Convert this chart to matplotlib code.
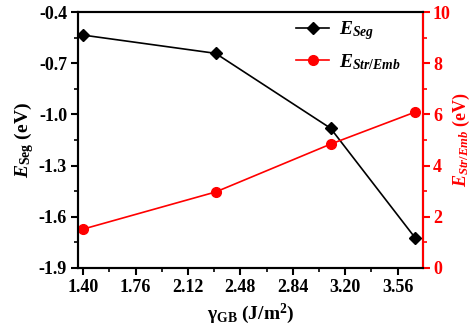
import matplotlib
matplotlib.use("Agg")
import matplotlib.pyplot as plt
from matplotlib.ticker import MultipleLocator, AutoMinorLocator

plt.rcParams["font.family"] = "Liberation Serif"
plt.rcParams["font.weight"] = "bold"
plt.rcParams["mathtext.fontset"] = "custom"
plt.rcParams["mathtext.rm"] = "Liberation Serif:bold"
plt.rcParams["mathtext.bf"] = "Liberation Serif:bold"
plt.rcParams["mathtext.it"] = "Liberation Serif:italic:bold"

# gamma_GB (J/m^2)
gamma_gb = [1.40, 2.31, 3.10, 3.68]
# segregation energy (eV), left axis
e_seg = [-0.535, -0.642, -1.081, -1.722]
# strain/embedding energy (eV), right axis
e_str_emb = [1.52, 2.97, 4.84, 6.09]

RED = "#ff0000"

fig, ax = plt.subplots(figsize=(4.74, 3.35), dpi=100)
fig.subplots_adjust(left=0.165, right=0.893, top=0.964, bottom=0.2)
ax2 = ax.twinx()

l1, = ax.plot(gamma_gb, e_seg, color="black", marker="D", ms=6, lw=1.2,
              label=r"$E_{Seg}$")
l2, = ax2.plot(gamma_gb, e_str_emb, color=RED, marker="o", ms=7, lw=1.2,
               label=r"$E_{Str/Emb}$")

ax.set_xlim(1.366, 3.737)
ax.set_ylim(-1.9, -0.4)
ax2.set_ylim(0, 10)

ax.set_xticks([1.40, 1.76, 2.12, 2.48, 2.84, 3.20, 3.56])
ax.set_xticklabels(["1.40", "1.76", "2.12", "2.48", "2.84", "3.20", "3.56"])
ax.xaxis.set_minor_locator(AutoMinorLocator(2))
ax.set_yticks([-1.9, -1.6, -1.3, -1.0, -0.7, -0.4])
ax.set_yticklabels(["-1.9", "-1.6", "-1.3", "-1.0", "-0.7", "-0.4"])
ax.yaxis.set_minor_locator(AutoMinorLocator(2))
ax2.yaxis.set_major_locator(MultipleLocator(2))
ax2.yaxis.set_minor_locator(AutoMinorLocator(2))

for a in (ax, ax2):
    for s in a.spines.values():
        s.set_linewidth(1.5)
ax2.spines["right"].set_color(RED)
ax2.spines["left"].set_color("black")

ax.tick_params(axis="both", which="major", direction="out", length=5, width=1.5,
               labelsize=13, pad=3)
ax.tick_params(axis="both", which="minor", direction="out", length=3, width=1.2)
ax2.tick_params(axis="y", which="major", direction="out", length=5, width=1.5,
                labelsize=13, colors=RED, pad=2)
ax2.tick_params(axis="y", which="minor", direction="out", length=3, width=1.2,
                colors=RED)

ax.set_xlabel(r"$\mathrm{\gamma}_{\mathrm{GB}}$ (J/m$^\mathrm{2}$)", fontsize=14,
              fontweight="bold", labelpad=4)
ax.set_ylabel(r"$E_{\mathrm{Seg}}$ (eV)", fontsize=14, fontweight="bold", labelpad=2)
ax2.set_ylabel(r"$E_{Str/Emb}$ (eV)", fontsize=13, fontweight="bold", color=RED,
               labelpad=0)

ax.legend([l1, l2], [l1.get_label(), l2.get_label()], loc="upper right",
          bbox_to_anchor=(0.985, 1.04), frameon=False, fontsize=14,
          handlelength=1.7, handletextpad=0.5, labelspacing=0.5)

fig.savefig("out.png", dpi=100)
